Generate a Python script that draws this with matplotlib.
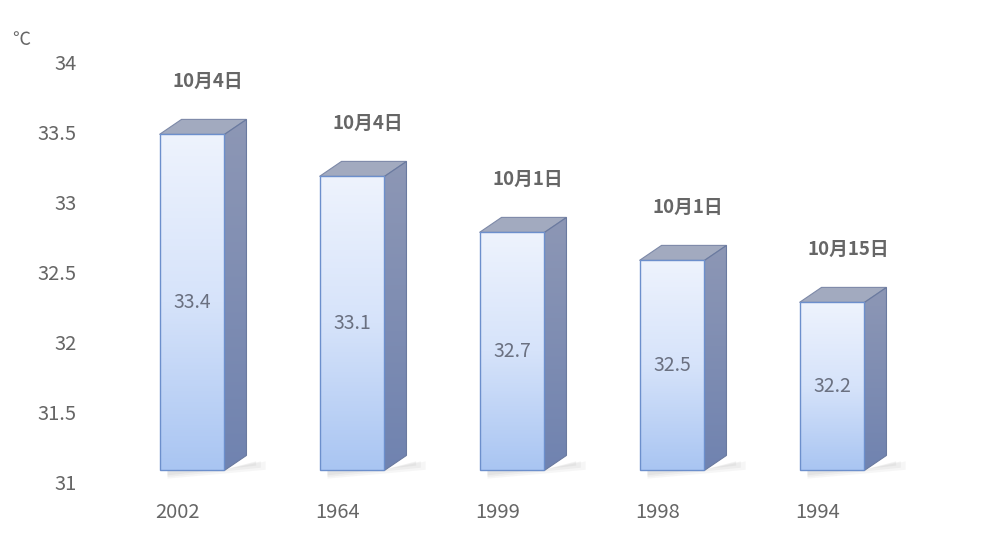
import numpy as np
import matplotlib
matplotlib.use("Agg")
import matplotlib.pyplot as plt
from matplotlib.patches import Polygon, Rectangle
from matplotlib.colors import LinearSegmentedColormap

plt.rcParams['font.family'] = ['Noto Sans CJK SC', 'DejaVu Sans']

years = ['2002', '1964', '1999', '1998', '1994']
values = [33.4, 33.1, 32.7, 32.5, 32.2]
dates = ['10月4日', '10月4日', '10月1日', '10月1日', '10月15日']
yticks = [31, 31.5, 32, 32.5, 33, 33.5, 34]

TXT = '#666666'

fig = plt.figure(figsize=(10, 5.47), dpi=100)
ax = fig.add_axes([0.095, 65 / 547, 0.905, 420 / 547])
for s in ax.spines.values():
    s.set_visible(False)
ax.set_xticks([])
ax.set_yticks(yticks)
ax.set_yticklabels([('%g' % t) for t in yticks], fontsize=14.5, color=TXT)
ax.tick_params(axis='y', length=0, pad=13)

half = 0.203      # half front width (data x)
ddx = 0.1375      # depth offset x
ddy = 0.107       # depth offset y
lift = 0.083      # front-face lift
base = 31 + lift

cmap = LinearSegmentedColormap.from_list('g', ['#a9c5f2', '#d6e3fa', '#eef3fd'])
grad = np.linspace(0, 1, 256).reshape(-1, 1)
side_cmap = LinearSegmentedColormap.from_list('s', ['#7083b0', '#8d97b5'])

for i, (v, yr, dt) in enumerate(zip(values, years, dates)):
    x0, x1 = i - half, i + half
    top = v + lift
    # soft shadow
    for k, a in enumerate([0.25, 0.2, 0.15]):
        sh = Polygon([(x1 - 0.02, base), (x1 + ddx + 0.06 + 0.03 * k, base + ddy * 0.6),
                      (x1 + ddx + 0.06 + 0.03 * k, base + ddy * 0.6 - 0.03 - 0.015 * k),
                      (x0 + 0.05, base - 0.035 - 0.012 * k), (x0 + 0.05, base)],
                     closed=True, facecolor='#c8c8c8', edgecolor='none', alpha=a, zorder=1)
        ax.add_patch(sh)
    # side face with gradient
    side = Polygon([(x1, base), (x1 + ddx, base + ddy), (x1 + ddx, top + ddy), (x1, top)],
                   closed=True, facecolor='none', edgecolor='#6a7aa0', lw=0.8, zorder=3)
    ax.add_patch(side)
    sim = ax.imshow(grad, extent=(x1, x1 + ddx, base, top + ddy), origin='lower',
                    cmap=side_cmap, aspect='auto', zorder=2, interpolation='bilinear')
    sim.set_clip_path(side)
    # top face
    tp = Polygon([(x0, top), (x0 + ddx, top + ddy), (x1 + ddx, top + ddy), (x1, top)],
                 closed=True, facecolor='#a2aabf', edgecolor='#7d89a8', lw=0.8, zorder=2)
    ax.add_patch(tp)
    # front face with gradient
    ax.imshow(grad, extent=(x0, x1, base, top), origin='lower', cmap=cmap,
              aspect='auto', zorder=3, interpolation='bilinear')
    rect = Rectangle((x0, base), x1 - x0, top - base, facecolor='none',
                     edgecolor='#6c8fcc', lw=1.0, zorder=4)
    ax.add_patch(rect)
    # value label
    ax.text(i, (base + top) / 2, '%g' % v, ha='center', va='center',
            fontsize=14, color='#6a7080', zorder=5)
    # date label
    ax.text(i + 0.1, top + 0.38, dt, ha='center', va='center', fontsize=13.5,
            fontweight='bold', color=TXT, zorder=5)
    # category label
    ax.text(i - 0.09, 30.78, yr, ha='center', va='center', fontsize=14.5,
            color=TXT, zorder=5)

ax.set_xlim(-97 / 160, 808 / 160)
ax.set_ylim(31, 34)
fig.text(0.012, 0.927, '℃', fontsize=13, color=TXT, ha='left', va='center')

fig.savefig('out.png', dpi=100, facecolor='white')
